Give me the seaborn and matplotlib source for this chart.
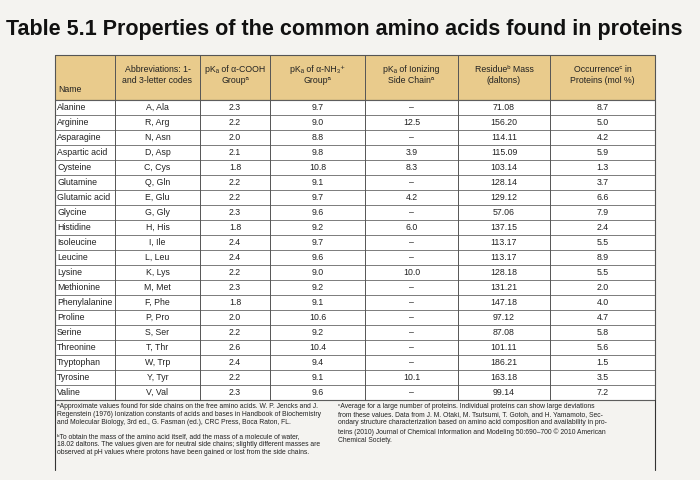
import matplotlib.pyplot as plt
import seaborn as sns

sns.set_theme(style="white")
plt.rcParams['font.family'] = ['Liberation Sans', 'DejaVu Sans']

names = ["Alanine", "Arginine", "Asparagine", "Aspartic acid", "Cysteine", "Glutamine",
         "Glutamic acid", "Glycine", "Histidine", "Isoleucine", "Leucine", "Lysine",
         "Methionine", "Phenylalanine", "Proline", "Serine", "Threonine", "Tryptophan",
         "Tyrosine", "Valine"]
abbrevs = ["A, Ala", "R, Arg", "N, Asn", "D, Asp", "C, Cys", "Q, Gln", "E, Glu", "G, Gly",
           "H, His", "I, Ile", "L, Leu", "K, Lys", "M, Met", "F, Phe", "P, Pro", "S, Ser",
           "T, Thr", "W, Trp", "Y, Tyr", "V, Val"]
pk_cooh = ["2.3", "2.2", "2.0", "2.1", "1.8", "2.2", "2.2", "2.3", "1.8", "2.4", "2.4", "2.2",
           "2.3", "1.8", "2.0", "2.2", "2.6", "2.4", "2.2", "2.3"]
pk_nh3 = ["9.7", "9.0", "8.8", "9.8", "10.8", "9.1", "9.7", "9.6", "9.2", "9.7", "9.6", "9.0",
          "9.2", "9.1", "10.6", "9.2", "10.4", "9.4", "9.1", "9.6"]
pk_side = ["–", "12.5", "–", "3.9", "8.3", "–", "4.2", "–", "6.0", "–", "–", "10.0",
           "–", "–", "–", "–", "–", "–", "10.1", "–"]
masses = ["71.08", "156.20", "114.11", "115.09", "103.14", "128.14", "129.12", "57.06",
          "137.15", "113.17", "113.17", "128.18", "131.21", "147.18", "97.12", "87.08",
          "101.11", "186.21", "163.18", "99.14"]
occurrence = ["8.7", "5.0", "4.2", "5.9", "1.3", "3.7", "6.6", "7.9", "2.4", "5.5", "8.9",
              "5.5", "2.0", "4.0", "4.7", "5.8", "5.6", "1.5", "3.5", "7.2"]
headers = ["Name", "Abbreviations: 1-\nand 3-letter codes", "pKₐ of α-COOH\nGroupᵃ",
           "pKₐ of α-NH₃⁺\nGroupᵃ", "pKₐ of Ionizing\nSide Chainᵃ",
           "Residueᵇ Mass\n(daltons)", "Occurrenceᶜ in\nProteins (mol %)"]

cols = [names, abbrevs, pk_cooh, pk_nh3, pk_side, masses, occurrence]
edges = [55, 115, 200, 270, 365, 458, 550, 655]
n = len(names)
row_h = 15.0
top = 100.0

fig = plt.figure(figsize=(7, 4.8), dpi=100)
ax = fig.add_axes([0, 0, 1, 1])
ax.set_xlim(0, 700)
ax.set_ylim(480, 0)
ax.axis('off')
fig.patch.set_facecolor('#f4f3f0')

ax.text(6, 30, "Table 5.1 Properties of the common amino acids found in proteins",
        fontsize=15.5, fontweight='bold', va='center', ha='left', color='#111111')

# header band
ax.add_patch(plt.Rectangle((edges[0], 55), edges[-1] - edges[0], top - 55,
                           facecolor='#e9cb8c', edgecolor='#555555', lw=0.8))
for j, h in enumerate(headers):
    if j == 0:
        ax.text(edges[0] + 3, 90, h, fontsize=6.3, va='center', ha='left', color='#222222')
    else:
        ax.text((edges[j] + edges[j + 1]) / 2, 75, h, fontsize=6.3, va='center', ha='center',
                color='#222222', linespacing=1.2)

# body
ax.add_patch(plt.Rectangle((edges[0], top), edges[-1] - edges[0], n * row_h,
                           facecolor='white', edgecolor='#333333', lw=0.8))
for i in range(n + 1):
    ax.plot([edges[0], edges[-1]], [top + i * row_h] * 2, color='#666666', lw=0.6)
for x in edges:
    ax.plot([x, x], [55, top + n * row_h], color='#555555', lw=0.7)
for j, col in enumerate(cols):
    for i, v in enumerate(col):
        y = top + (i + 0.5) * row_h
        if j == 0:
            ax.text(edges[0] + 2, y, v, fontsize=6.3, va='center', ha='left', color='#222222')
        else:
            ax.text((edges[j] + edges[j + 1]) / 2, y, v, fontsize=6.3, va='center', ha='center',
                    color='#222222')

foot_a = ("ᵃApproximate values found for side chains on the free amino acids. W. P. Jencks and J.\n"
          "Regenstein (1976) Ionization constants of acids and bases in Handbook of Biochemistry\n"
          "and Molecular Biology, 3rd ed., G. Fasman (ed.), CRC Press, Boca Raton, FL.")
foot_b = ("ᵇTo obtain the mass of the amino acid itself, add the mass of a molecule of water,\n"
          "18.02 daltons. The values given are for neutral side chains; slightly different masses are\n"
          "observed at pH values where protons have been gained or lost from the side chains.")
foot_c = ("ᶜAverage for a large number of proteins. Individual proteins can show large deviations\n"
          "from these values. Data from J. M. Otaki, M. Tsutsumi, T. Gotoh, and H. Yamamoto, Sec-\n"
          "ondary structure characterization based on amino acid composition and availability in pro-\n"
          "teins (2010) Journal of Chemical Information and Modeling 50:690–700 © 2010 American\n"
          "Chemical Society.")
ax.text(57, 403, foot_a, fontsize=4.9, va='top', ha='left', color='#222222', linespacing=1.25)
ax.text(57, 433, foot_b, fontsize=4.9, va='top', ha='left', color='#222222', linespacing=1.25)
ax.text(338, 403, foot_c, fontsize=4.9, va='top', ha='left', color='#222222', linespacing=1.25)
ax.plot([55, 55], [top + n * row_h, 470], color='#333333', lw=0.8)
ax.plot([655, 655], [top + n * row_h, 470], color='#333333', lw=0.8)

fig.savefig('out.png', dpi=100)
